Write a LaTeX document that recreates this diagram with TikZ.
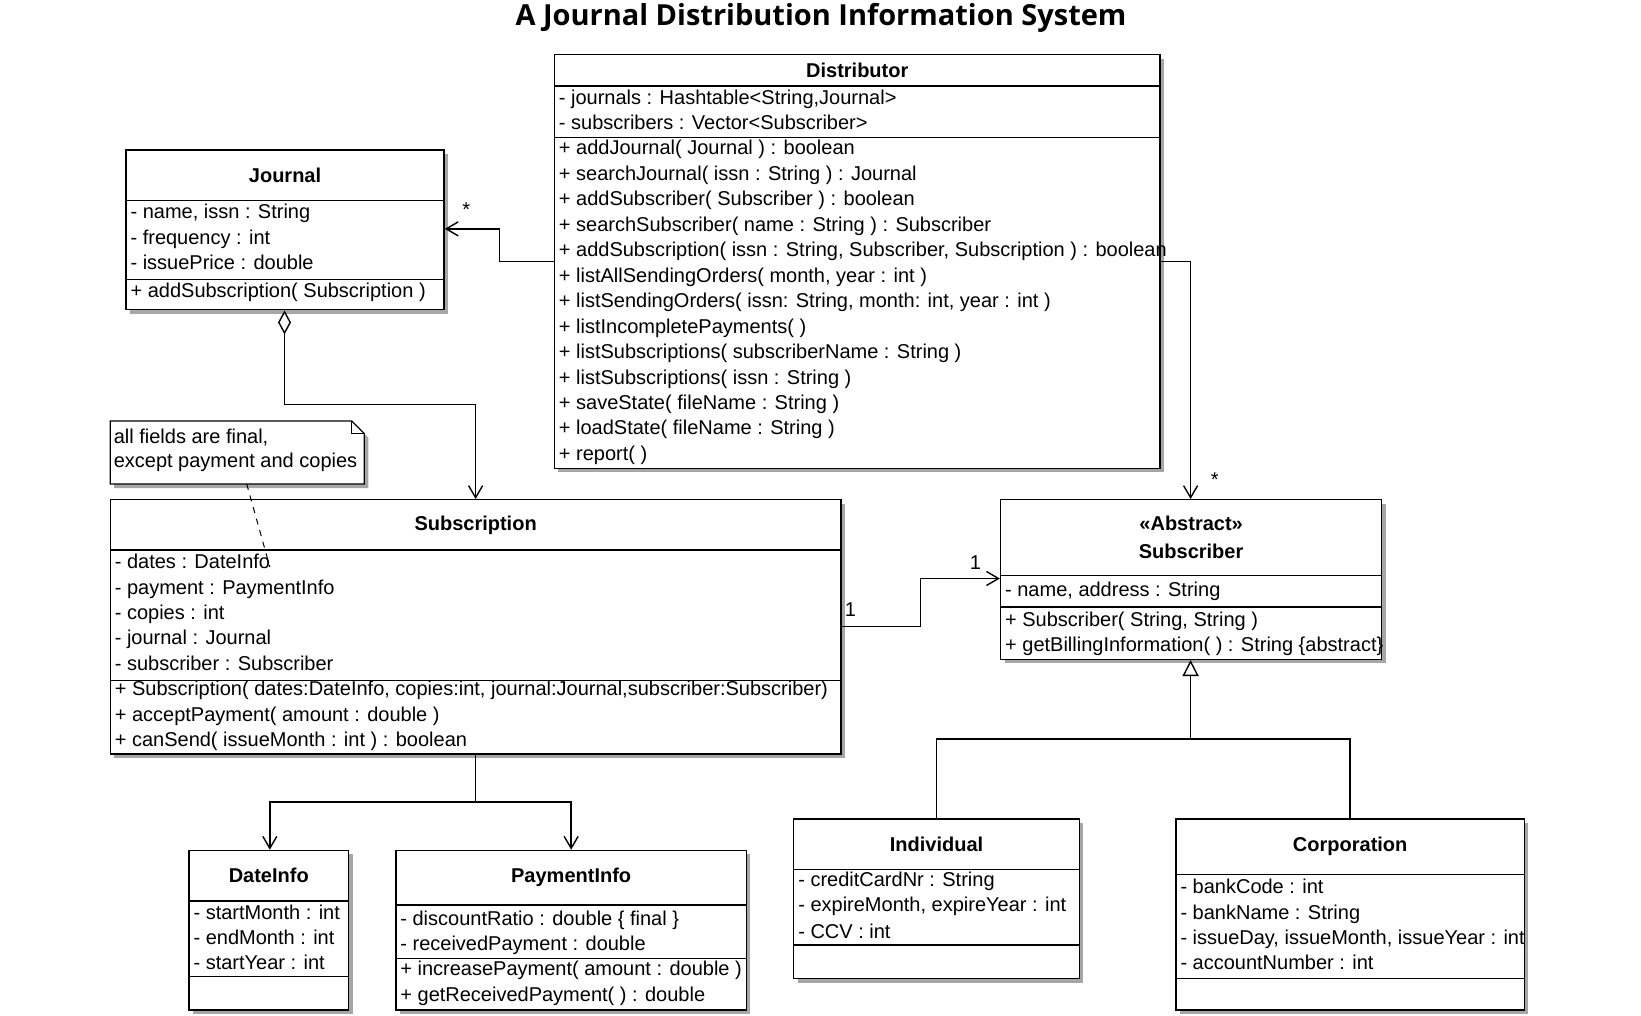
\documentclass[tikz,border=0pt]{standalone}
\usepackage{fontspec}
\setmainfont{Liberation Sans}
\newfontfamily\ttl{Open Sans}
\usetikzlibrary{fit,shadows,arrows.meta,shapes.misc}
\newcommand\cls[8]{%
  \node[fit={(#2,#3)(#4,#5)},inner sep=0,draw,line width=0.7pt,fill=white,
    drop shadow={shadow xshift=2pt,shadow yshift=-2pt,fill=black!35,opacity=1}] (#1) {};
  \draw[line width=0.7pt] (#2,#6)--(#4,#6);
  \ifx&#7&\else\draw[line width=0.7pt] (#2,#7)--(#4,#7);\fi
  \node[font=\bfseries,align=center,inner sep=0] at ({(#2+#4)/2},{(#3+#6)/2}) {#8};}
\newcommand\mln[3]{\node[anchor=west,inner sep=0] at (#1,#2) {\strut#3};}
\begin{document}
\begin{tikzpicture}[x=0.525pt,y=-0.525pt,font=\fontsize{10}{12}\selectfont,
  ar/.style={-{Straight Barb[length=6pt,width=7pt]},line width=0.7pt}]
\useasboundingbox (0,0) rectangle (1563,967);
\node[font=\ttl\bfseries\fontsize{14.5}{16}\selectfont] (title) at (782,17) {A Journal Distribution Information System};
% Distributor
\cls{dist}{528}{52}{1105}{446}{82}{131}{Distributor}
\mln{532}{95}{- journals : Hashtable<String,Journal>}
\mln{532}{119}{- subscribers : Vector<Subscriber>}
\foreach \t [count=\i from 0] in {{+ addJournal( Journal ) : boolean},{+ searchJournal( issn : String ) : Journal},{+ addSubscriber( Subscriber ) : boolean},{+ searchSubscriber( name : String ) : Subscriber},{+ addSubscription( issn : String, Subscriber, Subscription ) : boolean},{+ listAllSendingOrders( month, year : int )},{+ listSendingOrders( issn: String, month: int, year : int )},{+ listIncompletePayments( )},{+ listSubscriptions( subscriberName : String )},{+ listSubscriptions( issn : String )},{+ saveState( fileName : String )},{+ loadState( fileName : String )},{+ report( )}}
  {\mln{532}{143+24.25*\i}{\t}}
% Journal
\cls{journal}{120}{143}{423}{295}{191}{266}{Journal}
\mln{124}{204}{- name, issn : String}
\mln{124}{228}{- frequency : int}
\mln{124}{252}{- issuePrice : double}
\mln{124}{279}{+ addSubscription( Subscription )}
% Note
\draw[line width=0.6pt,fill=white,drop shadow={shadow xshift=2pt,shadow yshift=-2pt,fill=black!35,opacity=1}] (105,401)--(335,401)--(347,413)--(347,461)--(105,461)--cycle;
\draw[line width=0.6pt] (335,401)--(335,413)--(347,413);
\node[anchor=north west,inner sep=0,align=left] (note) at (108,408) {all fields are final,\\except payment and copies};
\coordinate (noteb) at (235,461);
\coordinate (notee) at (257,540);
% Subscription
\cls{subn}{105}{476}{801}{718}{524}{648}{Subscription}
\foreach \t [count=\i from 0] in {{- dates : DateInfo},{- payment : PaymentInfo},{- copies : int},{- journal : Journal},{- subscriber : Subscriber},{+ Subscription( dates:DateInfo, copies:int, journal:Journal,subscriber:Subscriber)},{+ acceptPayment( amount : double )},{+ canSend( issueMonth : int ) : boolean}}
  {\mln{109}{537+24.2*\i}{\t}}
% Subscriber
\cls{subr}{953}{476}{1316}{628}{548}{578}{«Abstract»\\[2pt]Subscriber}
\mln{957}{564}{- name, address : String}
\mln{957}{592}{+ Subscriber( String, String )}
\mln{957}{616}{+ getBillingInformation( ) : String \{abstract\}}
% DateInfo
\cls{date}{180}{810}{332}{962}{858}{930}{DateInfo}
\mln{184}{871}{- startMonth : int}
\mln{184}{895}{- endMonth : int}
\mln{184}{919}{- startYear : int}
% PaymentInfo
\cls{pay}{377}{810}{711}{962}{862}{913}{PaymentInfo}
\mln{381}{877}{- discountRatio : double \{ final \}}
\mln{381}{901}{- receivedPayment : double}
\mln{381}{925}{+ increasePayment( amount : double )}
\mln{381}{949}{+ getReceivedPayment( ) : double}
% Individual
\cls{ind}{756}{780}{1028}{932}{828}{900}{Individual}
\mln{760}{840}{- creditCardNr : String}
\mln{760}{864}{- expireMonth, expireYear : int}
\mln{760}{889}{- CCV : int}
% Corporation
\cls{corp}{1120}{780}{1452}{962}{833}{932}{Corporation}
\mln{1124}{846}{- bankCode : int}
\mln{1124}{871}{- bankName : String}
\mln{1124}{895}{- issueDay, issueMonth, issueYear : int}
\mln{1124}{919}{- accountNumber : int}
% connectors
\draw[ar] (dist.west |- 0,249) -- (476,249) -- (476,218) -- (journal.east |- 0,218);
\node at (444,200) {*};
\draw[ar] (dist.east |- 0,249) -- (1134,249) -- (subr.north -| 1134,0);
\node at (1157,457) {*};
\draw[ar,{Diamond[open,length=12pt,width=6.5pt]}-{Straight Barb[length=6pt,width=7pt]}] (journal.south -| 271,0) -- (271,385) -- (453,385) -- (subn.north -| 453,0);
\draw[dashed,line width=0.5pt] (noteb) -- (notee);
\draw[ar] (subn.east |- 0,597) -- (877,597) -- (877,551) -- (subr.west |- 0,551);
\node at (810,581) {1};
\node at (929,536) {1};
\draw[line width=0.7pt] (subn.south -| 453,0) -- (453,764);
\draw[ar] (453,764) -- (257,764) -- (date.north -| 257,0);
\draw[ar] (453,764) -- (544,764) -- (pay.north -| 544,0);
\draw[line width=0.7pt] (ind.north -| 892,0) -- (892,704) -- (1286,704) -- (corp.north -| 1286,0);
\draw[line width=0.7pt,-{Triangle[open,length=8pt,width=8pt]}] (1134,704) -- (subr.south -| 1134,0);
\end{tikzpicture}
\end{document}
